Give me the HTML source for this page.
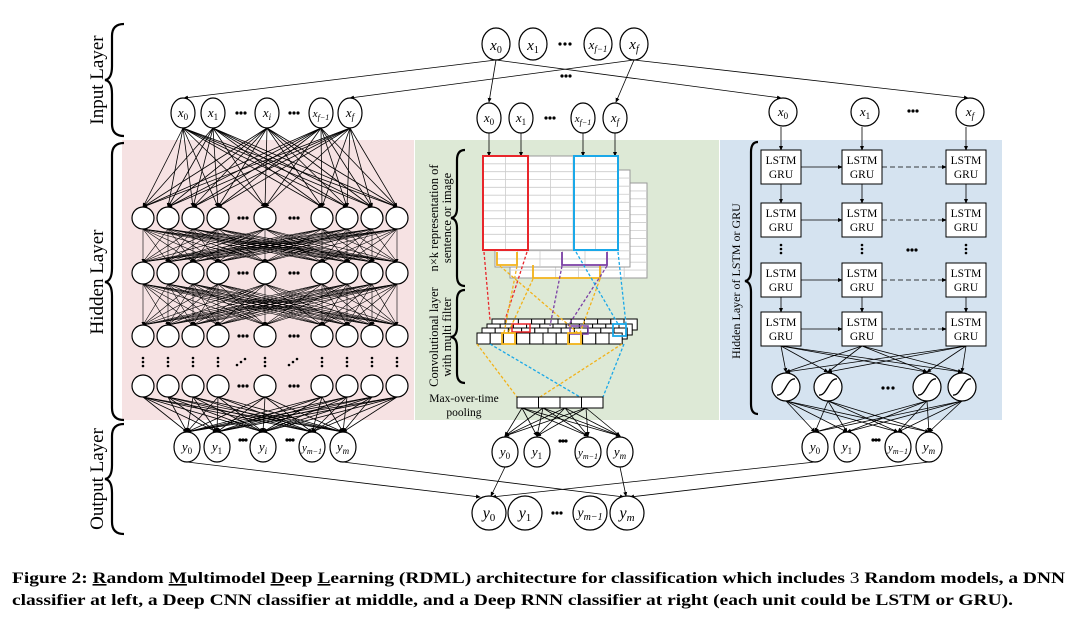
<!DOCTYPE html>
<html><head><meta charset="utf-8"><style>
html,body{margin:0;padding:0;background:#fff;width:1081px;height:618px;overflow:hidden}
svg{display:block}
text{font-family:"Liberation Serif",serif}
.cap{font-weight:bold;font-size:16px}
</style></head><body>
<svg id="s" width="1081" height="618" viewBox="0 0 1081 618" xmlns="http://www.w3.org/2000/svg">
<defs><marker id="a" markerWidth="6" markerHeight="6" refX="5" refY="3" orient="auto"><path d="M0,0.5 L6,3 L0,5.5z" fill="#000"/></marker></defs>
<rect x="122" y="140" width="292" height="280" fill="#f6e2e3"/>
<rect x="415" y="140" width="304" height="280" fill="#dde9d6"/>
<rect x="720" y="140" width="282" height="280" fill="#d5e3f0"/>
<g id="lines" stroke="#000" stroke-width="0.8" fill="none"></g>
<g id="shapes" stroke="#000" stroke-width="1.2" fill="#fff"></g>
<g fill="none" stroke="#000" stroke-width="2.2">
<path d="M124,24 Q112,24 112,36 L112,66 Q112,79 105,80 Q112,81 112,94 L112,124 Q112,136 124,136"/>
<path d="M124,143 Q112,143 112,155 L112,268 Q112,281 105,282 Q112,283 112,296 L112,408 Q112,420 124,420"/>
<path d="M124,424 Q112,424 112,436 L112,465 Q112,478 105,479 Q112,480 112,493 L112,522 Q112,534 124,534"/>
<path d="M465,150 Q457,150 457,160 L457,208 Q457,217 451,218 Q457,219 457,228 L457,276 Q457,286 465,286"/>
<path d="M465,290 Q457,290 457,300 L457,327 Q457,336 451,337 Q457,338 457,347 L457,373 Q457,383 465,383"/>
<path d="M758,142 Q751,142 751,152 L751,270 Q751,280 745,281 Q751,282 751,292 L751,404 Q751,414 758,414"/>
</g>
<g font-size="19">
<text transform="translate(103,80) rotate(-90)" text-anchor="middle">Input Layer</text>
<text transform="translate(103,282) rotate(-90)" text-anchor="middle">Hidden Layer</text>
<text transform="translate(103,479) rotate(-90)" text-anchor="middle">Output Layer</text>
</g>
<g font-size="12.5" text-anchor="middle">
<text transform="translate(438,218) rotate(-90)">n×k representation of</text>
<text transform="translate(451,218) rotate(-90)">sentence or image</text>
<text transform="translate(438,337) rotate(-90)">Convolutional layer</text>
<text transform="translate(451,337) rotate(-90)">with multi filter</text>
<text transform="translate(740,281) rotate(-90)" font-size="12">Hidden Layer of LSTM or GRU</text>
<text x="464" y="402" font-size="11.5">Max-over-time</text>
<text x="464" y="416" font-size="11.5">pooling</text>
</g>
<text class="cap" x="12" y="583" textLength="1053" lengthAdjust="spacingAndGlyphs">Figure 2: <tspan text-decoration="underline">R</tspan>andom <tspan text-decoration="underline">M</tspan>ultimodel <tspan text-decoration="underline">D</tspan>eep <tspan text-decoration="underline">L</tspan>earning (RDML) architecture for classification which includes <tspan font-weight="normal">3</tspan> Random models, a DNN</text>
<text class="cap" x="12" y="605" textLength="1001" lengthAdjust="spacingAndGlyphs">classifier at left, a Deep CNN classifier at middle, and a Deep RNN classifier at right (each unit could be LSTM or GRU).</text>
</svg>
<script>
var NS="http://www.w3.org/2000/svg";
var L=document.getElementById('lines'),S=document.getElementById('shapes');
function el(p,n,a){var e=document.createElementNS(NS,n);for(var k in a)e.setAttribute(k,a[k]);p.appendChild(e);return e;}
function ln(x1,y1,x2,y2,o){var a={x1:x1,y1:y1,x2:x2,y2:y2};if(o)for(var k in o)a[k]=o[k];return el(L,'line',a);}
function arr(x1,y1,x2,y2,o){var a={'marker-end':'url(#a)'};if(o)for(var k in o)a[k]=o[k];return ln(x1,y1,x2,y2,a);}
function ell(x,y,rx,ry){el(S,'ellipse',{cx:x,cy:y,rx:rx,ry:ry});}
function dots(x,y,g){for(var i=-1;i<=1;i++)el(S,'circle',{cx:x+i*(g||4),cy:y,r:1.6,fill:'#000',stroke:'none'});}
function vdots(x,y){for(var i=-1;i<=1;i++)el(S,'circle',{cx:x,cy:y+i*4,r:1.3,fill:'#000',stroke:'none'});}
var TI=[496,533,598,634];
arr(496,60,184,98);arr(634,60,350,98);
arr(496,60,489,102);arr(634,60,616,102);
arr(496,60,781,98);arr(634,60,968,98);
var DI=[183,213,267,321,350], DH=[143,168,193,218,265,322,347,372,397], rows=[218,273,336,386], DO=[187,217,263,312,343];
DI.forEach(function(a){DH.forEach(function(b){arr(a,128,b,rows[0]-11);});});
for(var r=0;r<2;r++)DH.forEach(function(a){DH.forEach(function(b){arr(a,rows[r]+11,b,rows[r+1]-11,{'stroke-width':0.6});});});
DH.forEach(function(a){DO.forEach(function(b){arr(a,rows[3]+11,b,432);});});
var CI=[489,521,583,615], CO=[505,537,588,620];
arr(489,133,489,156);arr(521,133,521,156);arr(583,133,583,156);arr(615,133,615,156);
[517,538,560,581].forEach(function(a){CO.forEach(function(b){arr(a+5,408,b,436);});});
var RC=[781,862,966], RR=[150,203,263,312], RS=[786,828,927,962], RO=[815,847,898,929];
RC.forEach(function(x){arr(x,127,x,150);});
RC.forEach(function(x){arr(x,184,x,203);arr(x,297,x,312);});
RR.forEach(function(y){arr(801,y+17,842,y+17);arr(882,y+17,946,y+17,{'stroke-dasharray':'5,3'});});
RC.forEach(function(a){RS.forEach(function(b){arr(a,346,b,372);});});
RS.forEach(function(a){RO.forEach(function(b){arr(a,401,b,432);});});
var FO=[489,525,590,627];
arr(187,462,480,497);arr(343,462,624,497);arr(505,467,491,496);arr(620,467,626,496);arr(815,462,492,497);arr(929,462,630,497);
function grid(x,y,w,h,cols,rows){el(S,'rect',{x:x,y:y,width:w,height:h,fill:'#fff',stroke:'#999','stroke-width':1});
 for(var i=1;i<cols;i++)el(S,'line',{x1:x+w*i/cols,y1:y,x2:x+w*i/cols,y2:y+h,stroke:'#ccc','stroke-width':0.8});
 for(var j=1;j<rows;j++)el(S,'line',{x1:x,y1:y+h*j/rows,x2:x+w,y2:y+h*j/rows,stroke:'#ccc','stroke-width':0.8});}
grid(510,183,137,95,6,12);grid(495,170,135,97,6,12);grid(483,156,135,94,6,12);
el(S,'rect',{x:483,y:156,width:45,height:94,fill:'none',stroke:'#e8262b','stroke-width':2});
el(S,'rect',{x:574,y:156,width:44,height:94,fill:'none',stroke:'#1aa8e8','stroke-width':2});
el(S,'path',{d:'M497,252 V265 H517 V252',fill:'none',stroke:'#f2b21a','stroke-width':1.8});
el(S,'path',{d:'M533,265 V278 H600 V265',fill:'none',stroke:'#f2b21a','stroke-width':1.8});
el(S,'path',{d:'M562,252 V265 H607 V252',fill:'none',stroke:'#7b3fa5','stroke-width':1.8});
function crow(x,y){for(var i=0;i<11;i++)el(S,'rect',{x:x+i*13.2,y:y,width:13.2,height:11,fill:'#fff',stroke:'#000','stroke-width':1});}
crow(492,319);crow(487,324);crow(482,328);crow(477,333);
el(S,'rect',{x:570,y:326,width:18,height:8,fill:'none',stroke:'#7b3fa5','stroke-width':1.5});
el(S,'rect',{x:512,y:324,width:18,height:8,fill:'none',stroke:'#e8262b','stroke-width':1.5});
el(S,'rect',{x:502,y:333,width:13,height:11,fill:'none',stroke:'#f2b21a','stroke-width':1.8});
el(S,'rect',{x:568,y:333,width:13,height:11,fill:'none',stroke:'#f2b21a','stroke-width':1.8});
el(S,'rect',{x:613,y:324,width:13,height:12,fill:'none',stroke:'#1aa8e8','stroke-width':1.8});
function dl(x1,y1,x2,y2,c){el(S,'line',{x1:x1,y1:y1,x2:x2,y2:y2,stroke:c,'stroke-width':1.3,'stroke-dasharray':'3,2'});}
var R='#e8262b',Y='#f2b21a',P='#7b3fa5',B='#1aa8e8';
dl(484,252,490,320,R);dl(527,252,505,320,R);
dl(500,266,578,333,Y);dl(517,266,504,333,Y);
dl(533,279,508,333,Y);dl(600,279,580,333,Y);
dl(562,266,550,326,P);dl(607,266,568,326,P);
dl(576,252,618,324,B);dl(618,252,626,324,B);
dl(477,344,517,397,Y);dl(622,344,540,397,Y);
dl(490,344,580,397,B);dl(624,344,603,397,B);
for(var i=0;i<4;i++)el(S,'rect',{x:517+i*21.5,y:397,width:21.5,height:11,fill:'#fff',stroke:'#000','stroke-width':1});
RR.forEach(function(y){RC.forEach(function(x){el(S,'rect',{x:x-20,y:y,width:40,height:34,fill:'#fff',stroke:'#000','stroke-width':1});});});
RS.forEach(function(x){el(S,'circle',{cx:x,cy:387,r:14});el(S,'path',{d:'M'+(x-9)+','+(387+8)+' C'+(x-1)+','+(387+9)+' '+(x+1)+','+(387-9)+' '+(x+9)+','+(387-8),fill:'none','stroke-width':1.3});});
dots(888,388,5);
TI.forEach(function(x){ell(x,44,14,16);});dots(565,44,5);dots(566,76,4);
DI.forEach(function(x){ell(x,113,12,15);});dots(241,113,4);dots(294,113,4);
CI.forEach(function(x){ell(x,118,12,15);});dots(550,118,4);
[783,865,970].forEach(function(x){ell(x,112,14,14);});dots(913,111,4);
DH.forEach(function(x){rows.forEach(function(y){el(S,'circle',{cx:x,cy:y,r:11});});});
rows.forEach(function(y){dots(243,y,4);dots(294,y,4);});
DH.forEach(function(x){vdots(x,362);});
[[237,365],[241,362],[245,359],[289,365],[293,362],[297,359]].forEach(function(p){el(S,'circle',{cx:p[0],cy:p[1],r:1.3,fill:'#000',stroke:'none'});});
DO.forEach(function(x){ell(x,447,13,15);});dots(243,440,3);dots(290,440,3);
CO.forEach(function(x){ell(x,452,13,15);});dots(563,441,3);
RO.forEach(function(x){ell(x,447,13,15);});dots(876,440,3);
FO.forEach(function(x){ell(x,513,17,17);});dots(557,513,4);
RC.forEach(function(x){vdots(x,249);});dots(912,250,4);
</script>
<div style="position:absolute;left:0;top:0;width:1081px;height:618px;pointer-events:none">
<svg width="1081" height="618" style="position:absolute;left:0;top:0">
<g font-family="Liberation Serif,serif" text-anchor="middle" font-size="15" font-style="italic">
<text x="496" y="50">x<tspan font-size="10" dy="3" font-style="normal">0</tspan></text>
<text x="533" y="50">x<tspan font-size="10" dy="3" font-style="normal">1</tspan></text>
<text x="598" y="49" font-size="13">x<tspan font-size="9" dy="3">f−1</tspan></text>
<text x="634" y="49">x<tspan font-size="10" dy="3">f</tspan></text>
</g>
<g font-family="Liberation Serif,serif" text-anchor="middle" font-size="13" font-style="italic">
<text x="183" y="117">x<tspan font-size="9" dy="3" font-style="normal">0</tspan></text>
<text x="213" y="117">x<tspan font-size="9" dy="3" font-style="normal">1</tspan></text>
<text x="267" y="117">x<tspan font-size="9" dy="3">i</tspan></text>
<text x="321" y="117" font-size="11">x<tspan font-size="8" dy="3">f−1</tspan></text>
<text x="350" y="117">x<tspan font-size="9" dy="3">f</tspan></text>
<text x="489" y="122">x<tspan font-size="9" dy="3" font-style="normal">0</tspan></text>
<text x="521" y="122">x<tspan font-size="9" dy="3" font-style="normal">1</tspan></text>
<text x="583" y="122" font-size="11">x<tspan font-size="8" dy="3">f−1</tspan></text>
<text x="615" y="122">x<tspan font-size="9" dy="3">f</tspan></text>
<text x="783" y="116">x<tspan font-size="9" dy="3" font-style="normal">0</tspan></text>
<text x="865" y="116">x<tspan font-size="9" dy="3" font-style="normal">1</tspan></text>
<text x="970" y="116">x<tspan font-size="9" dy="3">f</tspan></text>
<text x="187" y="451">y<tspan font-size="9" dy="3" font-style="normal">0</tspan></text>
<text x="217" y="451">y<tspan font-size="9" dy="3" font-style="normal">1</tspan></text>
<text x="263" y="451">y<tspan font-size="9" dy="3">i</tspan></text>
<text x="312" y="451" font-size="11">y<tspan font-size="8" dy="3">m−1</tspan></text>
<text x="343" y="451">y<tspan font-size="9" dy="3">m</tspan></text>
<text x="505" y="456">y<tspan font-size="9" dy="3" font-style="normal">0</tspan></text>
<text x="537" y="456">y<tspan font-size="9" dy="3" font-style="normal">1</tspan></text>
<text x="588" y="456" font-size="11">y<tspan font-size="8" dy="3">m−1</tspan></text>
<text x="620" y="456">y<tspan font-size="9" dy="3">m</tspan></text>
<text x="815" y="451">y<tspan font-size="9" dy="3" font-style="normal">0</tspan></text>
<text x="847" y="451">y<tspan font-size="9" dy="3" font-style="normal">1</tspan></text>
<text x="898" y="451" font-size="11">y<tspan font-size="8" dy="3">m−1</tspan></text>
<text x="929" y="451">y<tspan font-size="9" dy="3">m</tspan></text>
</g>
<g font-family="Liberation Serif,serif" text-anchor="middle" font-size="16" font-style="italic">
<text x="489" y="518">y<tspan font-size="11" dy="3" font-style="normal">0</tspan></text>
<text x="525" y="518">y<tspan font-size="11" dy="3" font-style="normal">1</tspan></text>
<text x="590" y="517" font-size="14">y<tspan font-size="10" dy="3">m−1</tspan></text>
<text x="627" y="518">y<tspan font-size="11" dy="3">m</tspan></text>
</g>
<g font-family="Liberation Serif,serif" text-anchor="middle" font-size="11.5">
<text x="781" y="164">LSTM</text><text x="781" y="178">GRU</text>
<text x="862" y="164">LSTM</text><text x="862" y="178">GRU</text>
<text x="966" y="164">LSTM</text><text x="966" y="178">GRU</text>
<text x="781" y="217">LSTM</text><text x="781" y="231">GRU</text>
<text x="862" y="217">LSTM</text><text x="862" y="231">GRU</text>
<text x="966" y="217">LSTM</text><text x="966" y="231">GRU</text>
<text x="781" y="277">LSTM</text><text x="781" y="291">GRU</text>
<text x="862" y="277">LSTM</text><text x="862" y="291">GRU</text>
<text x="966" y="277">LSTM</text><text x="966" y="291">GRU</text>
<text x="781" y="326">LSTM</text><text x="781" y="340">GRU</text>
<text x="862" y="326">LSTM</text><text x="862" y="340">GRU</text>
<text x="966" y="326">LSTM</text><text x="966" y="340">GRU</text>
</g>
</svg></div>
</body></html>
